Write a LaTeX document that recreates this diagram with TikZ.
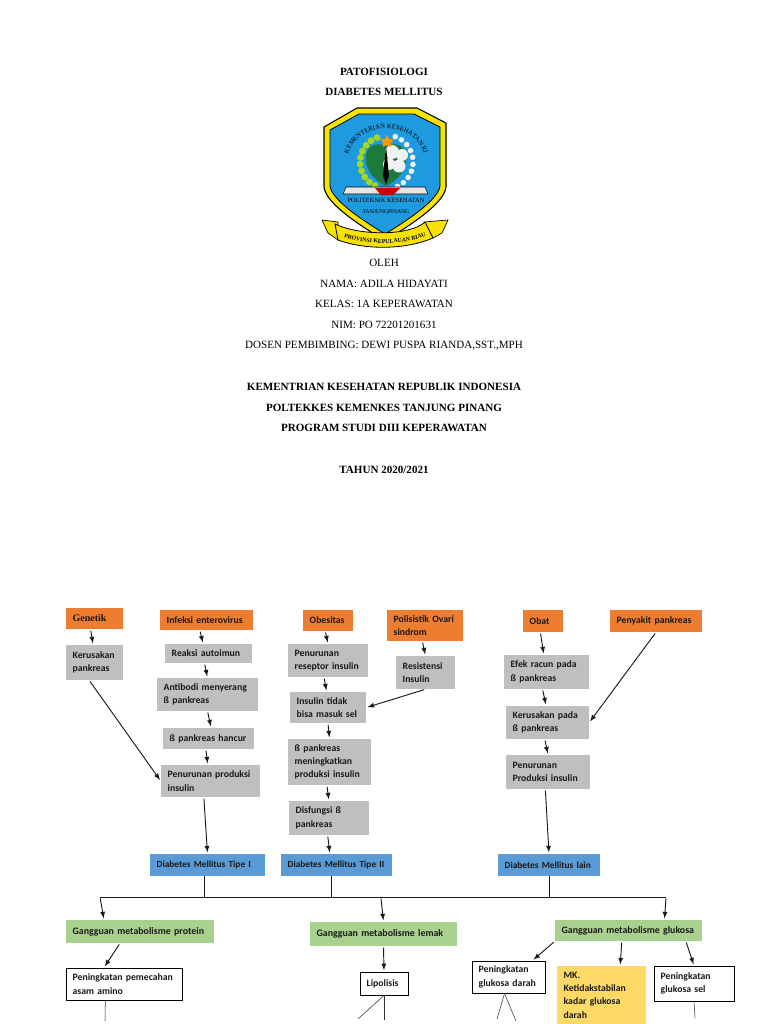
\documentclass[tikz,border=0pt]{standalone}
\usepackage{fontspec}
\setmainfont{Liberation Serif}
\newfontfamily\boxfont{Carlito}
\usetikzlibrary{decorations.text}
\definecolor{kotakorange}{HTML}{ED7D31}
\definecolor{kotakgrey}{HTML}{BFBFBF}
\definecolor{kotakblue}{HTML}{5B9BD5}
\definecolor{kotakgreen}{HTML}{A9D18E}
\definecolor{kotakgold}{HTML}{FFD966}
\definecolor{logoblue}{HTML}{1E9BE0}
\definecolor{logogold}{HTML}{F7E200}
\definecolor{logogreen}{HTML}{1E7A3C}
\tikzset{
  judul/.style={font=\fontsize{8.3}{10}\selectfont\bfseries},
  biasa/.style={font=\fontsize{8.3}{10}\selectfont},
  kotak/.style={rectangle, inner xsep=5pt, inner ysep=0pt, align=left, text=black!90,
    font=\boxfont\bfseries\fontsize{7.3}{10}\selectfont},
  w/.style={text width=#1*0.75pt-10pt},
  h/.style={minimum height=#1*0.75pt},
  abu/.style={kotak, fill=kotakgrey},
  jingga/.style={kotak, fill=kotakorange},
  biru/.style={kotak, fill=kotakblue, font=\boxfont\bfseries\fontsize{7}{10}\selectfont},
  hijau/.style={kotak, fill=kotakgreen, font=\boxfont\bfseries\fontsize{7.4}{10}\selectfont},
  emas/.style={kotak, fill=kotakgold},
  putih/.style={kotak, draw=black, line width=0.7pt, fill=white},
  panah/.style={-latex, line width=0.7pt, black!90, shorten >=1pt, shorten <=1pt},
  garis/.style={line width=0.7pt, black!90},
  ekor/.style={line width=0.4pt, black!80}
}
\begin{document}
\begin{tikzpicture}[x=0.75pt, y=-0.75pt]
\useasboundingbox (0,0) rectangle (768,1024);
% judul
\node[judul] (patofisiologi) at (384,72) {PATOFISIOLOGI};
\node[judul] (diabetes) at (384,92) {DIABETES MELLITUS};
\node[biasa] (oleh) at (384,263) {OLEH};
\node[biasa] (nama) at (384,284) {NAMA: ADILA HIDAYATI};
\node[biasa] (kelas) at (384,304) {KELAS: 1A KEPERAWATAN};
\node[biasa] (nim) at (384,325) {NIM: PO 72201201631};
\node[biasa] (dosen) at (384,346) {DOSEN PEMBIMBING: DEWI PUSPA RIANDA,SST.,MPH};
\node[judul] (kemen) at (384,387) {KEMENTRIAN KESEHATAN REPUBLIK INDONESIA};
\node[judul] (polt) at (384,408) {POLTEKKES KEMENKES TANJUNG PINANG};
\node[judul] (prodi) at (384,428) {PROGRAM STUDI DIII KEPERAWATAN};
\node[judul] (tahun) at (384,470) {TAHUN 2020/2021};
% logo
\draw[fill=logogold, line width=0.8pt] (324,127) -- (357,108) -- (417,108) -- (446,123) -- (446,187)
  .. controls (444,205) and (405,228) .. (385,241) .. controls (365,228) and (326,205) .. (324,187) -- cycle;
\draw[fill=logoblue, line width=0.6pt] (330,130) -- (359,114) -- (414,114) -- (440,127) -- (440,186)
  .. controls (438,201) and (403,223) .. (385,234) .. controls (367,223) and (332,201) .. (330,186) -- cycle;
\path[postaction={decorate, decoration={text along path, text align=center,
  text={|\fontsize{5}{6}\selectfont|KEMENTERIAN KESEHATAN RI}}}]
  (346,168) .. controls (346,115) and (426,115) .. (426,168);
% lambang
\foreach \a in {110,125,...,245} \fill[yellow!65!green] ({386+26*cos(\a)},{162-26*sin(\a)}) circle (3.4);
\fill[logogreen] (386,146) .. controls (362,136) and (356,172) .. (386,186) .. controls (416,172) and (410,136) .. (386,146);
\fill[white!95!black] (392,152) circle (7) (402,155) circle (6) (399,166) circle (6.5) (389,164) circle (6);
\fill[black] (386,146) -- (389,176) -- (386,184) -- (383,176) -- cycle;
\fill[orange!80!yellow] (387,135) -- (389,139) -- (394,139.5) -- (390.5,142.5) -- (391.5,147) -- (387,145) -- (382.5,147) -- (383.5,142.5) -- (380,139.5) -- (385,139) -- cycle;
\foreach \a in {-65,-50,...,70} \fill[white!95!black] ({386+27*cos(\a)},{162-27*sin(\a)}) circle (2.8);
\draw[fill=white!90!black, line width=0.4pt] (346,187) -- (425,187) -- (428,194) -- (343,194) -- cycle;
\fill[red!80!black] (375,188) -- (400,188) -- (393,195) -- (381,195) -- cycle;
\node[font=\fontsize{4.8}{5}\selectfont, inner sep=0pt] (politeknik) at (386,200) {POLITEKNIK KESEHATAN};
\node[font=\fontsize{4.2}{5}\selectfont, inner sep=0pt] (tanjung) at (386,211.5) {TANJUNGPINANG};
% pita
\draw[fill=logogold, line width=0.5pt] (322,220) -- (338,222) -- (338,240) -- (328,233) -- cycle;
\draw[fill=logogold, line width=0.5pt] (448,220) -- (424,222) -- (433,238) -- (442,233) -- cycle;
\draw[fill=logogold, line width=0.6pt] (335,224) .. controls (360,236) and (410,236) .. (425,222) -- (433,238)
  .. controls (405,250) and (365,250) .. (338,240) -- cycle;
\path[postaction={decorate, decoration={text along path, text align=center,
  text={|\fontsize{4.4}{5}\selectfont\bfseries|PROVINSI KEPULAUAN RIAU}}}]
  (339,235.5) .. controls (362,246) and (408,246) .. (431,234);
% baris atas
\node[jingga, w=57, h=21, font=\bfseries\fontsize{7.5}{10}\selectfont] (genetik) at (94.5,618.5) {Genetik};
\node[jingga, w=93, h=20] (infeksi) at (206.5,620) {Infeksi enterovirus};
\node[jingga, w=50, h=21] (obesitas) at (328,620.5) {Obesitas};
\node[jingga, w=76, h=31] (polisistik) at (425,625.5) {Polisistik Ovari sindrom};
\node[jingga, w=40, h=22] (obat) at (543,621) {Obat};
\node[jingga, w=92, h=22] (penyakit) at (656,621) {Penyakit pankreas};
% kolom tipe I
\node[abu, w=57, h=35] (kerusakan) at (94.5,662.5) {Kerusakan\\pankreas};
\node[abu, w=87, h=19] (reaksi) at (208.5,653.5) {Reaksi autoimun};
\node[abu, w=101, h=33] (antibodi) at (207.5,694.5) {Antibodi menyerang\\ß pankreas};
\node[abu, w=91, h=21] (hancur) at (208.5,738.5) {\mbox{ß pankreas hancur}};
\node[abu, w=99, h=32] (produksi) at (210.5,781) {Penurunan produksi\\insulin};
\node[biru, w=115, h=22] (tipea) at (207.5,865) {Diabetes Mellitus Tipe I};
% kolom tipe II
\node[abu, w=80, h=33] (reseptor) at (328,660.5) {Penurunan\\reseptor insulin};
\node[abu, w=59, h=33] (resistensi) at (425.5,672.5) {Resistensi\\Insulin};
\node[abu, w=76, h=31] (tidak) at (328,707.5) {Insulin tidak\\bisa masuk sel};
\node[abu, w=83, h=46] (meningkat) at (329.5,762) {ß pankreas\\meningkatkan\\produksi insulin};
\node[abu, w=80, h=34] (disfungsi) at (329,818) {Disfungsi ß\\pankreas};
\node[biru, w=111, h=22] (tipeb) at (336.5,865) {\mbox{Diabetes Mellitus Tipe II}};
% kolom lain
\node[abu, w=85, h=34] (efek) at (546.5,672) {Efek racun pada\\ß pankreas};
\node[abu, w=83, h=33] (rusakpada) at (547.5,722.5) {Kerusakan pada\\ß pankreas};
\node[abu, w=84, h=34] (turunlain) at (548,772) {Penurunan\\Produksi insulin};
\node[biru, w=102, h=22] (lain) at (549,865) {\mbox{Diabetes Mellitus lain}};
% gangguan
\node[hijau, w=148, h=23] (protein) at (140,931.5) {Gangguan metabolisme protein};
\node[hijau, w=147, h=24] (lemak) at (383.5,934) {Gangguan metabolisme lemak};
\node[hijau, w=147, h=21] (glukosa) at (628.5,930.5) {Gangguan metabolisme glukosa};
\node[putih, w=116, h=32] (pemecahan) at (124,984) {Peningkatan pemecahan\\asam amino};
\node[putih, w=48, h=23] (lipolisis) at (384,983.5) {Lipolisis};
\node[putih, w=73, h=32] (darah) at (508.5,977) {Peningkatan\\glukosa darah};
\node[emas, w=89, h=58] (mk) at (601.5,995) {MK.\\Ketidakstabilan\\kadar glukosa\\darah};
\node[putih, w=80, h=35] (sel) at (694,983.5) {Peningkatan\\glukosa sel};
% titik bantu
\coordinate (kiri) at (100,897);
\coordinate (kanan) at (666,897);
\coordinate (ekora) at (105,1021);
\coordinate (ekorb) at (358,1019);
\coordinate (ekorc) at (384,1020);
\coordinate (ekord) at (497,1019);
\coordinate (ekore) at (516,1021);
\coordinate (ekorf) at (695,1018);
% panah
\draw[panah] ([xshift=-3pt]genetik.south) -- ([xshift=-1pt]kerusakan.north);
\draw[panah] ([xshift=-4pt]kerusakan.south) -- (produksi.west);
\draw[panah] ([xshift=-5pt]infeksi.south) -- ([xshift=-4pt]reaksi.north);
\draw[panah] ([xshift=-3pt]reaksi.south) -- (antibodi.north);
\draw[panah] (antibodi.south) -- ([xshift=2pt]hancur.north);
\draw[panah] ([xshift=-2pt]hancur.south) -- ([xshift=-2pt]produksi.north);
\draw[panah] ([xshift=-5pt]produksi.south) -- (tipea.north);
\draw[panah] ([xshift=-2pt]obesitas.south) -- (reseptor.north);
\draw[panah] ([xshift=-3pt]reseptor.south) -- ([xshift=-1pt]tidak.north);
\draw[panah] (tidak.south) -- (meningkat.north);
\draw[panah] ([xshift=-2pt]meningkat.south) -- (disfungsi.north);
\draw[panah] ([xshift=-1pt]disfungsi.south) -- ([xshift=-5pt]tipeb.north);
\draw[panah] ([xshift=-2pt]polisistik.south) -- (resistensi.north);
\draw[panah] (resistensi.south) -- (tidak.east);
\draw[panah] ([xshift=-2pt]obat.south) -- ([xshift=-2pt]efek.north);
\draw[panah] ([xshift=-3pt]efek.south) -- ([xshift=-1pt]rusakpada.north);
\draw[panah] ([xshift=-2pt]rusakpada.south) -- (turunlain.north);
\draw[panah] ([xshift=-2pt]turunlain.south) -- (lain.north);
\draw[panah] (penyakit.south) -- (rusakpada.east);
\draw[garis] ([xshift=-2.6pt]tipea.south) -- ([xshift=-2.6pt]tipea.south |- kiri);
\draw[garis] ([xshift=-4pt]tipeb.south) -- ([xshift=-4pt]tipeb.south |- kiri);
\draw[garis] (lain.south) -- (lain.south |- kiri);
\draw[garis] (kiri) -- (kanan);
\draw[panah] (kiri) -- ([xshift=-27pt]protein.north);
\draw[panah] ([xshift=-2pt]lemak.north |- kiri) -- (lemak.north);
\draw[panah] (kanan) -- ([xshift=27pt]glukosa.north);
\draw[panah] ([xshift=-15pt]protein.south) -- ([xshift=-15pt]pemecahan.north);
\draw[panah] (lemak.south) -- (lipolisis.north);
\draw[panah] (glukosa.south west) -- ([xshift=18pt]darah.north);
\draw[panah] ([xshift=-5pt]glukosa.south) -- ([xshift=14pt]mk.north);
\draw[panah] ([xshift=43pt]glukosa.south) -- (sel.north);
\draw[ekor] ([xshift=-14pt]pemecahan.south) -- (ekora);
\draw[ekor] (lipolisis.south) -- (ekorb);
\draw[ekor] (lipolisis.south) -- (ekorc);
\draw[ekor] ([xshift=-3pt]darah.south) -- (ekord);
\draw[ekor] ([xshift=-3pt]darah.south) -- (ekore);
\draw[ekor] (sel.south) -- (ekorf);
\end{tikzpicture}
\end{document}
